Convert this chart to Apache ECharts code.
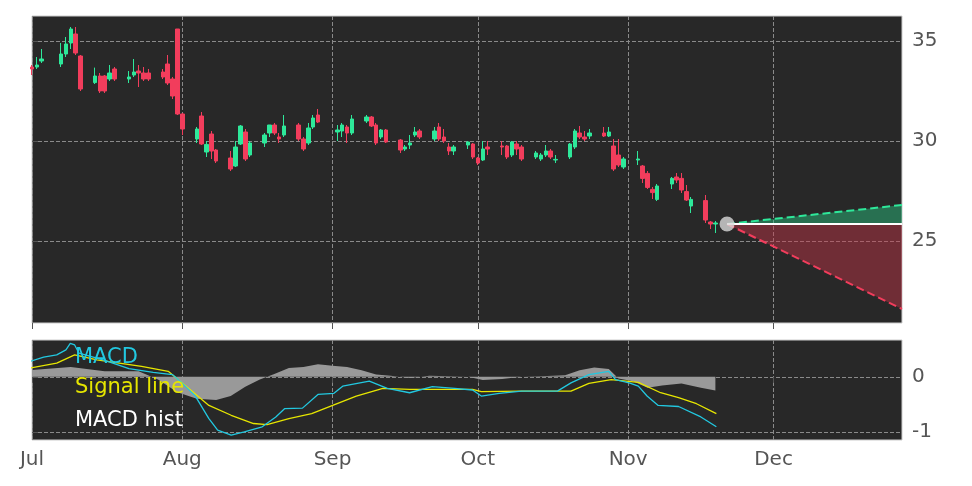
<!DOCTYPE html>
<html>
<head>
<meta charset="utf-8">
<script src="https://cdn.jsdelivr.net/npm/echarts@6/dist/echarts.min.js"></script>
<style>html,body{margin:0;padding:0;background:#fff}#main{width:972px;height:486px}</style>
</head>
<body>
<div id="main"></div>
<script>
// x values are day offsets from Jul 1 for each trading candle
var dayOffsets = [0,1,2,6,7,8,9,10,13,14,15,16,17,20,21,22,23,24,27,28,29,30,31,
  34,35,36,37,38,41,42,43,44,45,48,49,50,51,52,55,56,57,58,59,
  63,64,65,66,69,70,71,72,73,76,77,78,79,80,83,84,85,86,87,90,91,
  92,93,94,97,98,99,100,101,104,105,106,107,108,111,112,113,114,115,118,119,120,121,122,
  125,126,127,128,129,132,133,134,135,136,139,140,141];
var openP = [33.7,33.7,34.0,33.85,34.35,34.9,35.35,34.25,32.92,33.25,33.25,33.1,33.6,33.1,33.3,33.5,33.4,33.4,33.45,33.85,33.1,35.6,31.35,
  30.1,31.25,29.45,30.35,29.55,29.15,28.75,29.85,30.45,29.3,29.9,30.4,30.8,30.2,30.3,30.8,30.1,29.9,30.7,31.3,
  30.45,30.5,30.7,30.4,31.0,31.2,30.8,30.2,30.55,30.05,29.6,29.8,30.3,30.5,30.1,30.7,30.2,29.7,29.5,29.8,29.85,
  29.15,29.05,29.7,29.75,29.75,29.3,29.85,29.7,29.2,29.1,29.3,29.5,29.05,29.2,29.7,30.4,30.2,30.25,30.4,30.25,29.75,29.3,28.7,
  29.05,28.75,28.38,27.58,27.08,27.85,28.2,28.13,27.47,26.75,27.02,25.95,25.85];
var closeP = [33.6,33.8,34.1,34.35,34.85,35.6,34.4,32.6,33.25,32.5,32.5,33.4,33.1,33.2,33.45,33.4,33.1,33.1,33.2,32.9,32.25,31.35,30.6,
  30.6,29.85,29.83,29.5,29.0,28.6,29.7,30.75,29.1,29.9,30.3,30.8,30.4,30.1,30.75,30.1,29.6,30.65,31.15,30.95,
  30.55,30.8,30.4,31.1,31.2,30.75,29.9,30.55,29.95,29.55,29.7,29.9,30.45,30.2,30.5,30.1,30.0,29.5,29.7,29.95,29.2,
  28.9,29.6,29.6,29.7,29.2,29.95,29.6,29.1,29.4,29.3,29.5,29.2,29.08,29.85,30.5,30.2,30.1,30.4,30.25,30.45,28.6,28.8,29.1,
  29.1,28.13,27.68,27.42,27.75,28.13,28.05,27.55,27.05,27.08,26.05,25.85,25.9];
var lowP = [33.3,33.6,33.9,33.7,34.2,34.6,34.3,32.5,32.85,32.4,32.4,33.0,33.0,32.9,33.2,32.7,33.0,33.0,33.1,32.8,32.1,31.3,30.3,
  29.9,29.8,29.2,29.1,28.9,28.5,28.7,29.8,29.0,29.2,29.7,30.2,30.3,29.9,30.2,30.0,29.5,29.8,30.6,30.9,
  30.0,30.2,29.9,30.3,30.9,30.7,29.8,30.1,29.9,29.4,29.5,29.6,30.2,30.1,30.0,30.0,29.9,29.3,29.3,29.6,29.1,
  28.8,29.0,29.3,29.3,29.1,29.2,29.3,29.0,29.1,29.0,29.2,29.1,28.9,29.1,29.6,30.1,30.0,30.1,30.2,30.2,28.5,28.7,28.6,
  28.8,27.9,27.6,27.1,27.0,27.6,27.9,27.4,27.0,26.4,25.9,25.6,25.4];
var highP = [33.8,34.2,34.6,34.9,35.2,35.7,35.7,34.3,33.67,33.4,33.3,33.8,33.7,33.5,34.1,33.8,33.7,33.6,33.6,34.3,33.2,35.6,31.4,
  30.7,31.45,30.0,30.5,29.6,29.5,30.0,30.8,30.6,30.0,30.4,30.8,30.9,30.4,31.3,30.9,30.2,30.9,31.3,31.6,
  30.8,30.9,30.8,31.3,31.3,31.25,30.9,30.6,30.6,30.1,29.8,30.3,30.7,30.6,30.7,30.9,30.6,29.9,29.8,30.0,29.9,
  29.2,30.0,30.0,30.0,29.8,30.0,30.0,29.8,29.5,29.4,29.8,29.6,29.3,29.9,30.6,30.75,30.5,30.6,30.7,30.7,30.1,30.1,29.2,
  29.5,28.8,28.5,27.7,27.85,28.2,28.4,28.4,27.8,27.2,27.3,26.0,26.0];

var macdOff = [-0.4,2.4,5.1,7,7.9,8.8,9.7,15,20,25,29,30.9,33.7,36.5,38.3,41.1,43.8,47.5,50.3,52.1,55.8,59,62.3,64.1,69.6,73.3,77.9,82.6,87.2,90.9,92.7,96.4,101,108.4,111.2,114.9,119,120.4,123.2,125.1,126.9,129.2,133.4,138,141.2];
var macdVal = [0.28,0.36,0.40,0.49,0.61,0.58,0.43,0.3,0.15,0.08,0.04,-0.11,-0.35,-0.76,-0.97,-1.06,-1.0,-0.91,-0.73,-0.58,-0.57,-0.32,-0.30,-0.17,-0.08,-0.21,-0.29,-0.18,-0.21,-0.24,-0.35,-0.30,-0.26,-0.26,-0.11,0.04,0.10,-0.05,-0.11,-0.17,-0.35,-0.52,-0.54,-0.73,-0.91];
var signalOff = [-0.4,5.1,8.8,13.4,22.6,28.1,31.8,36.5,41.1,45.7,48.5,53,57.7,62.3,66.9,72.4,77.9,90.9,92.7,101,111.2,114.9,119.5,125.1,129.7,133.4,137.1,141.2];
var signalVal = [0.16,0.25,0.40,0.31,0.19,0.10,-0.17,-0.52,-0.70,-0.85,-0.87,-0.76,-0.67,-0.51,-0.35,-0.21,-0.23,-0.23,-0.27,-0.26,-0.26,-0.12,-0.05,-0.10,-0.29,-0.38,-0.49,-0.67];
var histOff = [-0.4,8,15,22,26,30,34,38,41,44,47,50,53,56,59,62,65,68,71,74,78,82,86,90,93,97,101,105,110,113,116,119,121,124,127,130,134,138,141];
var histVal = [0.12,0.18,0.10,0.10,-0.05,-0.28,-0.40,-0.42,-0.35,-0.18,-0.05,0.05,0.16,0.18,0.23,0.20,0.18,0.12,0.04,0.02,-0.02,0.02,0.01,0.0,-0.06,-0.04,0.0,0.01,0.03,0.12,0.17,0.14,-0.03,-0.08,-0.20,-0.16,-0.12,-0.20,-0.25];

var lastPrice = 25.85;
var projOff = [143.4, 179.5];
var projUpper = [25.85, 26.8];
var projLower = [25.85, 21.6];
var monthStarts = [0, 31, 62, 92, 123, 153];
var monthLabels = ['Jul','Aug','Sep','Oct','Nov','Dec'];

var candles = dayOffsets.map(function (o, i) {
  return [o, openP[i], closeP[i], lowP[i], highP[i]];
});
function pts(offs, vals) { return offs.map(function (o, i) { return [o, vals[i]]; }); }

var gridColor = '#8a8a8a';
var labelColor = '#555';
function xAxis(idx, showLabel) {
  return {
    type: 'value', gridIndex: idx, min: 0, max: 179.5,
    axisLine: { show: false },
    axisTick: { show: true, customValues: monthStarts, length: 6, lineStyle: { color: '#555' } },
    axisLabel: {
      show: showLabel, customValues: monthStarts, color: labelColor, fontSize: 20,
      fontFamily: 'DejaVu Sans', margin: 10,
      formatter: function (v) { return monthLabels[monthStarts.indexOf(v)]; }
    },
    splitLine: { show: true, lineStyle: { color: gridColor, type: 'dashed', width: 1 } }
  };
}
function yAxis(idx, min, max, ticks) {
  return {
    type: 'value', gridIndex: idx, position: 'right', min: min, max: max,
    axisLine: { show: false },
    axisTick: { show: true, customValues: ticks, length: 6, lineStyle: { color: '#555' } },
    axisLabel: { customValues: ticks, color: labelColor, fontSize: 20, fontFamily: 'DejaVu Sans', margin: 10 },
    splitLine: { show: true, lineStyle: { color: gridColor, type: 'dashed', width: 1 } }
  };
}

function triangle(color) {
  return function (params, api) {
    var p0 = api.coord([api.value(0), api.value(1)]);
    var p1 = api.coord([api.value(2), api.value(3)]);
    var p2 = api.coord([api.value(4), api.value(5)]);
    return { type: 'polygon', shape: { points: [p0, p1, p2] }, style: { fill: color } };
  };
}

var chart = echarts.init(document.getElementById('main'));
chart.setOption({
  animation: false,
  backgroundColor: '#fff',
  grid: [
    { left: 32, right: 70, top: 16, height: 307, backgroundColor: '#282828', show: true, borderWidth: 1, borderColor: '#ccc' },
    { left: 32, right: 70, top: 340, height: 100, backgroundColor: '#282828', show: true, borderWidth: 1, borderColor: '#ccc' }
  ],
  xAxis: [xAxis(0, false), xAxis(1, true)],
  yAxis: [yAxis(0, 20.9, 36.25, [25, 30, 35]), yAxis(1, -1.15, 0.67, [-1, 0])],
  series: [
    {
      type: 'custom', xAxisIndex: 0, yAxisIndex: 0, renderItem: triangle('rgba(40,200,130,0.45)'),
      data: [[projOff[0], lastPrice, projOff[1], projUpper[1], projOff[1], lastPrice]], z: 1
    },
    {
      type: 'custom', xAxisIndex: 0, yAxisIndex: 0, renderItem: triangle('rgba(200,50,70,0.45)'),
      data: [[projOff[0], lastPrice, projOff[1], projLower[1], projOff[1], lastPrice]], z: 1
    },
    {
      type: 'candlestick', xAxisIndex: 0, yAxisIndex: 0, barWidth: 4,
      itemStyle: { color: '#2ee89a', color0: '#f23d5c', borderColor: '#2ee89a', borderColor0: '#f23d5c', borderWidth: 1 },
      data: candles, z: 3
    },
    {
      type: 'line', xAxisIndex: 0, yAxisIndex: 0, symbol: 'none', z: 4,
      lineStyle: { color: '#2ee89a', width: 2, type: 'dashed' }, data: pts(projOff, projUpper)
    },
    {
      type: 'line', xAxisIndex: 0, yAxisIndex: 0, symbol: 'none', z: 4,
      lineStyle: { color: '#f23d5c', width: 2, type: 'dashed' }, data: pts(projOff, projLower)
    },
    {
      type: 'line', xAxisIndex: 0, yAxisIndex: 0, symbol: 'none', z: 4,
      lineStyle: { color: '#fff', width: 2 }, data: pts(projOff, [lastPrice, lastPrice])
    },
    {
      type: 'scatter', xAxisIndex: 0, yAxisIndex: 0, symbolSize: 15, z: 5,
      itemStyle: { color: '#d8d8d8' }, data: [[projOff[0], lastPrice]]
    },
    {
      type: 'line', xAxisIndex: 1, yAxisIndex: 1, symbol: 'none',
      lineStyle: { width: 0 }, areaStyle: { color: '#999', opacity: 1 }, data: pts(histOff, histVal)
    },
    {
      type: 'line', xAxisIndex: 1, yAxisIndex: 1, symbol: 'none',
      lineStyle: { color: '#e6e600', width: 1.3 }, data: pts(signalOff, signalVal)
    },
    {
      type: 'line', xAxisIndex: 1, yAxisIndex: 1, symbol: 'none',
      lineStyle: { color: '#22c8e0', width: 1.3 }, data: pts(macdOff, macdVal)
    }
  ],
  graphic: [
    { type: 'text', left: 75, top: 347, z: 100, style: { text: 'MACD', fill: '#22c8e0', fontSize: 21, fontFamily: 'DejaVu Sans' } },
    { type: 'text', left: 75, top: 377, z: 100, style: { text: 'Signal line', fill: '#e6e600', fontSize: 21, fontFamily: 'DejaVu Sans' } },
    { type: 'text', left: 75, top: 410, z: 100, style: { text: 'MACD hist', fill: '#fff', fontSize: 21, fontFamily: 'DejaVu Sans' } }
  ]
});
</script>
</body>
</html>
